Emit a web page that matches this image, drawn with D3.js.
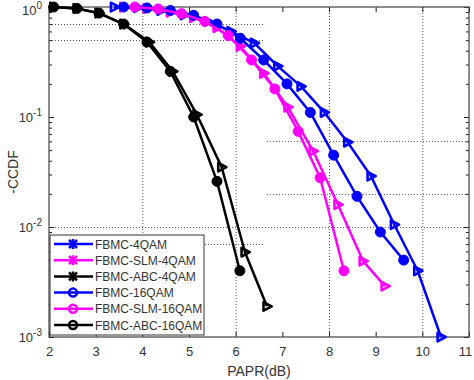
<!DOCTYPE html>
<html><head><meta charset="utf-8">
<script src="https://cdn.jsdelivr.net/npm/d3@7"></script>
<style>body{margin:0;background:#fff}svg{display:block;font-family:"Liberation Sans",Arial,sans-serif}</style>
</head><body><svg id="c" width="474" height="380"></svg>
<script>
// ---- data ----
const seriesNames = ["FBMC-4QAM","FBMC-SLM-4QAM","FBMC-ABC-4QAM","FBMC-16QAM","FBMC-SLM-16QAM","FBMC-ABC-16QAM"];
const seriesColors = ["#0000ff","#ff00ff","#000000","#0000ff","#ff00ff","#000000"];
const seriesMarkers = ["tri","tri","tri","circle","circle","circle"];
const fbmc4X   = [3.4,3.9,4.4,4.9,5.4,5.9,6.4,6.9,7.4,7.9,8.4,8.9,9.4,9.9,10.4];
const fbmc4Y   = [1.0,0.99,0.93,0.85,0.74,0.6,0.47,0.29,0.19,0.11,0.059,0.029,0.0105,0.004,0.001];
const slm4X    = [3.6,4.1,4.6,5.1,5.6,6.1,6.6,7.12,7.66,8.19,8.73,9.2];
const slm4Y    = [1.0,0.97,0.9,0.8,0.65,0.44,0.25,0.123,0.049,0.016,0.0049,0.0029];
const abc4X    = [2.1,2.6,3.07,3.6,4.15,4.65,5.17,5.7,6.2,6.67];
const abc4Y    = [1.0,0.97,0.88,0.7,0.48,0.26,0.105,0.035,0.0059,0.0019];
const fbmc16X  = [3.6,4.1,4.6,5.1,5.6,6.1,6.6,7.1,7.6,8.1,8.6,9.1,9.6];
const fbmc16Y  = [1.0,0.98,0.93,0.84,0.7,0.52,0.33,0.2,0.11,0.045,0.019,0.009,0.005];
const slm16X   = [3.84,4.34,4.84,5.34,5.84,6.34,6.84,7.34,7.81,8.32];
const slm16Y   = [1.0,0.96,0.87,0.74,0.55,0.33,0.18,0.074,0.028,0.004];
const abc16X   = [2.1,2.6,3.07,3.6,4.1,4.6,5.1,5.6,6.09];
const abc16Y   = [1.0,0.97,0.88,0.7,0.48,0.26,0.1,0.026,0.004];
const xTicks = [2,3,4,5,6,7,8,9,10,11];
const yTicks = [1,0.1,0.01,0.001];
const yTickExp = ["0","-1","-2","-3"];
const xLabel = "PAPR(dB)";
const yLabel = "-CCDF";

const allX = [fbmc4X,slm4X,abc4X,fbmc16X,slm16X,abc16X];
const allY = [fbmc4Y,slm4Y,abc4Y,fbmc16Y,slm16Y,abc16Y];
const series = seriesNames.map((n,i)=>({name:n,color:seriesColors[i],marker:seriesMarkers[i],
  pts:allX[i].map((x,j)=>({x:x,y:allY[i][j]}))}));

// ---- layout ----
const L=49,R=469,T=7,B=337;
const svg=d3.select("#c");
const x=d3.scaleLinear().domain([2,11]).range([L,R]);
const y=d3.scaleLog().domain([0.001,1]).range([B,T]);

// grid (decorative dotted lines as they appear in the figure)
const gridV=[4,6,8,10];
const gridH=[[0.7,2,6.63],[0.5,2,6.63],[0.06,6.67,11],[0.02,6.67,11],[0.01,2,11],[0.007,2,6.63]];
const g=svg.append("g").attr("stroke","#555").attr("stroke-width",1).attr("stroke-dasharray","1,2");
gridV.forEach(v=>g.append("line").attr("x1",x(v)+0.5).attr("x2",x(v)+0.5).attr("y1",T).attr("y2",B));
gridH.forEach(h=>g.append("line").attr("x1",x(h[1])).attr("x2",x(h[2])).attr("y1",Math.round(y(h[0]))+0.5).attr("y2",Math.round(y(h[0]))+0.5));

// axes
const ax=d3.axisBottom(x).tickValues(xTicks).tickSizeInner(-5).tickSizeOuter(0).tickPadding(10).tickFormat(d=>d);
const axT=d3.axisTop(x).tickValues(xTicks).tickSizeInner(-5).tickSizeOuter(0).tickFormat("");
const minor=[];for(let e=-3;e<0;e++)for(let k=2;k<10;k++)minor.push(k*Math.pow(10,e));
const ayL=d3.axisLeft(y).tickValues(yTicks).tickSizeInner(-5).tickSizeOuter(0).tickFormat("");
const ayR=d3.axisRight(y).tickValues(yTicks).tickSizeInner(-5).tickSizeOuter(0).tickFormat("");
const ayLm=d3.axisLeft(y).tickValues(minor).tickSizeInner(-3).tickSizeOuter(0).tickFormat("");
const ayRm=d3.axisRight(y).tickValues(minor).tickSizeInner(-3).tickSizeOuter(0).tickFormat("");
function style(sel){sel.select(".domain").remove();sel.selectAll("line").attr("stroke","#222");sel.selectAll("text").attr("fill","#333").attr("font-size",13);}
const xAxisG=svg.append("g").attr("transform",`translate(0,${B})`).call(ax).call(style);
xAxisG.selectAll(".tick text").filter(d=>d===11).attr("dx",-4);
svg.append("g").attr("transform",`translate(0,${T})`).call(axT).call(style);
svg.append("g").attr("transform",`translate(${L},0)`).call(ayL).call(style);
svg.append("g").attr("transform",`translate(${R},0)`).call(ayR).call(style);
svg.append("g").attr("transform",`translate(${L},0)`).call(ayLm).call(style);
svg.append("g").attr("transform",`translate(${R},0)`).call(ayRm).call(style);
svg.append("rect").attr("x",L).attr("y",T).attr("width",R-L).attr("height",B-T).attr("fill","none").attr("stroke","#444").attr("stroke-width",1.2);

// y tick labels with superscripts
yTicks.forEach((v,i)=>{
  const t=svg.append("text").attr("x",L-7).attr("y",Math.max(y(v)+5,15)).attr("text-anchor","end").attr("fill","#333").attr("font-size",13);
  t.append("tspan").text("10");
  t.append("tspan").attr("dy",-6).attr("font-size",10).text(yTickExp[i]);
});

// labels
svg.append("text").attr("x",(L+R)/2).attr("y",376).attr("text-anchor","middle").attr("fill","#333").attr("font-size",14).text(xLabel);
svg.append("text").attr("transform",`translate(18,${(T+B)/2}) rotate(-90)`).attr("text-anchor","middle").attr("fill","#333").attr("font-size",14).text(yLabel);

// lines & markers
const line=d3.line().x(d=>x(d.x)).y(d=>y(d.y));
const plot=svg.append("g");
function drawMarker(gs,m,c,px,py,legend){
  if(m==="tri"){
    if(legend){
      gs.append("path").attr("d",`M${px-4},${py-4}L${px+4},${py+4}M${px-4},${py+4}L${px+4},${py-4}M${px},${py-5}L${px},${py+5}`).attr("stroke",c).attr("stroke-width",2.5);
    } else {
      const s=4.3;
      gs.append("path").attr("d",`M${px-s*0.8},${py-s}L${px+s*1.1},${py}L${px-s*0.8},${py+s}Z`).attr("fill","none").attr("stroke",c).attr("stroke-width",2.6).attr("stroke-linejoin","round");
    }
  } else {
    if(legend){
      gs.append("circle").attr("cx",px).attr("cy",py).attr("r",4).attr("fill","none").attr("stroke",c).attr("stroke-width",2.5);
    } else {
      gs.append("circle").attr("cx",px).attr("cy",py).attr("r",5).attr("fill",c).attr("stroke",c).attr("stroke-width",1);
    }
  }
}
series.forEach(s=>{
  plot.append("path").datum(s.pts).attr("d",line).attr("fill","none").attr("stroke",s.color).attr("stroke-width",2.5).attr("stroke-linejoin","round");
  s.pts.forEach(p=>drawMarker(plot,s.marker,s.color,x(p.x),y(p.y),false));
});

// legend
const lg=svg.append("g");
lg.append("rect").attr("x",50).attr("y",235).attr("width",154).attr("height",100).attr("fill","#fff").attr("stroke","#333").attr("stroke-width",1);
series.forEach((s,i)=>{
  const yy=244+i*16.2;
  lg.append("line").attr("x1",54).attr("x2",93).attr("y1",yy).attr("y2",yy).attr("stroke",s.color).attr("stroke-width",2.5);
  drawMarker(lg,s.marker,s.color,73,yy,true);
  lg.append("text").attr("x",95).attr("y",yy+4.5).attr("fill","#333").attr("font-size",12).text(s.name);
});
</script></body></html>
